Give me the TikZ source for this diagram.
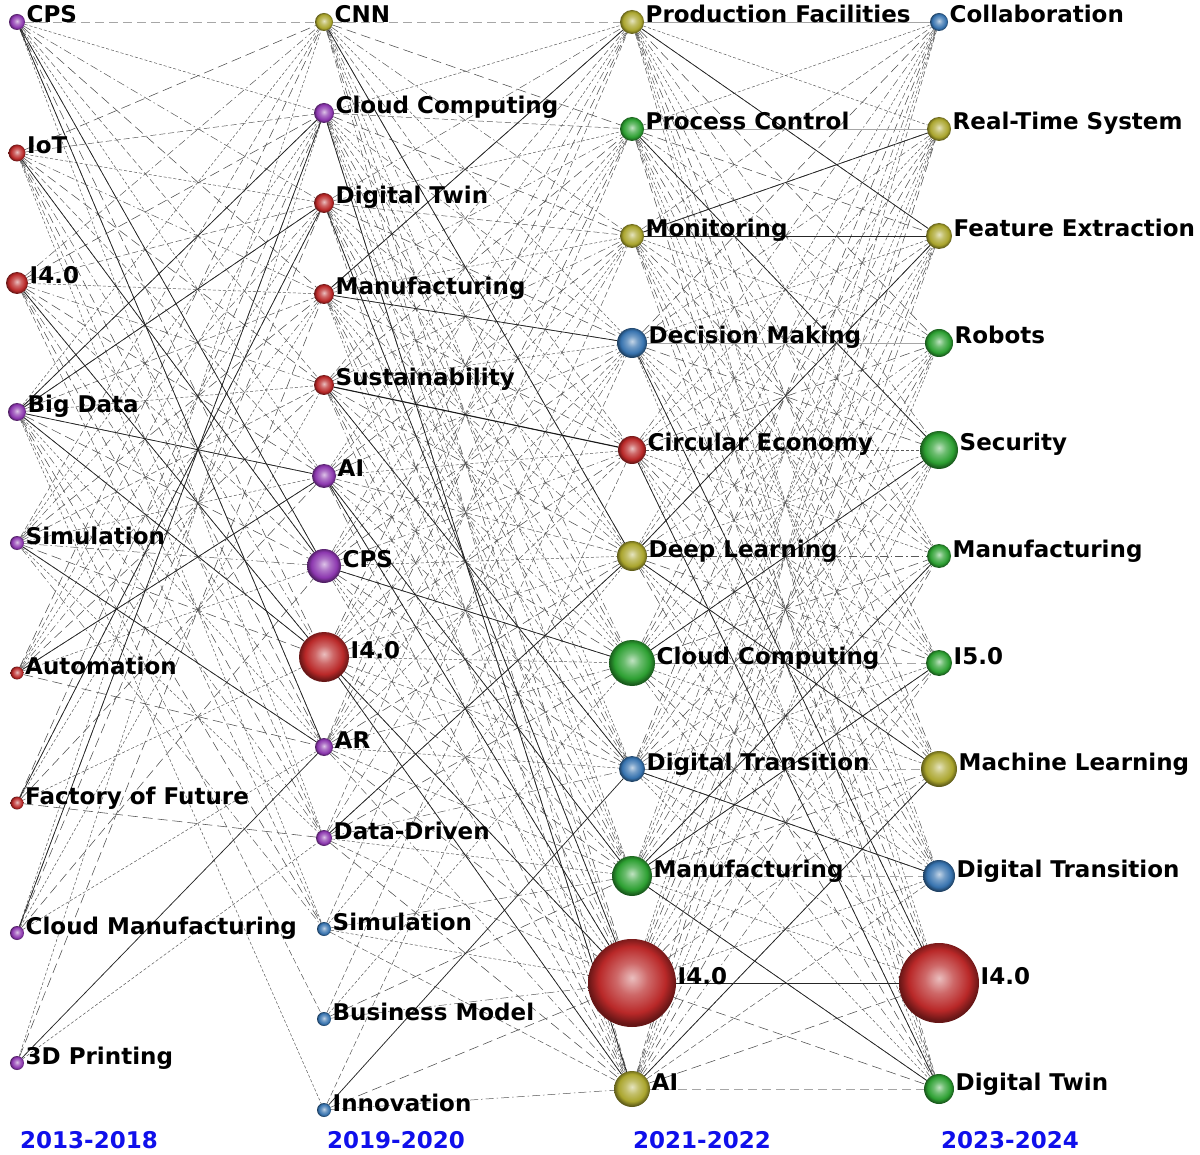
\documentclass[tikz,border=0pt]{standalone}
\usepackage{fontspec}
\setmainfont{DejaVu Sans}
\usetikzlibrary{backgrounds}
\definecolor{kred}{RGB}{185,40,40}
\definecolor{kpurple}{RGB}{140,55,175}
\definecolor{kolive}{RGB}{170,165,45}
\definecolor{kgreen}{RGB}{45,160,50}
\definecolor{kblue}{RGB}{55,115,175}
\definecolor{yrblue}{RGB}{15,15,235}
\colorlet{kwc}{kred}
\pgfdeclareradialshading[kwc]{kwsh}{\pgfpoint{0bp}{3bp}}{%
  color(0bp)=(kwc!30!white); color(9bp)=(kwc!70!white);
  color(19bp)=(kwc); color(25bp)=(kwc!55!black); color(50bp)=(kwc!55!black)}
\tikzset{
  kwball/.style={circle, inner sep=0pt, outer sep=0pt,
    /utils/exec={\colorlet{kwc}{#1}}, shading=kwsh},
  lbl/.style={anchor=base west, inner sep=0pt, xshift=1.5pt, yshift=-1pt,
    font=\bfseries\fontsize{23}{27}\selectfont},
  yr/.style={anchor=base west, inner sep=0pt, text=yrblue,
    font=\bfseries\fontsize{23}{27}\selectfont},
  mesha/.style={draw=black!65, line width=0.5pt, dash pattern=on 6pt off 3pt},
  meshb/.style={draw=black!65, line width=0.5pt, dash pattern=on 3pt off 2pt},
  meshc/.style={draw=black!65, line width=0.5pt, dash pattern=on 8pt off 3pt on 1.5pt off 3pt},
  meshd/.style={draw=black!70, line width=0.55pt, dash pattern=on 10pt off 5pt},
  strong/.style={draw=black!85, line width=0.75pt},
  heavy/.style={draw=black!90, line width=1.1pt},
  faint/.style={draw=black!35, line width=0.9pt},
  faintdash/.style={draw=black!35, line width=0.9pt, dash pattern=on 9pt off 5pt},
}
\newcommand\kwnode[6]{%
  \node[kwball=#5, minimum size=#4pt] (#1) at (#2,#3) {};
  \node[lbl] (#1t) at (#1.east) {#6};}
\newcommand\meshline[3]{%
  \ifcase#1\relax \draw[mesha] (#2) -- (#3);%
  \or \draw[meshb] (#2) -- (#3);%
  \or \draw[meshc] (#2) -- (#3);%
  \or \draw[meshd] (#2) -- (#3);\fi}
\begin{document}
\begin{tikzpicture}[x=1pt,y=-1pt]
\useasboundingbox (0,0) rectangle (1200,1155);
% column 1
\kwnode{A1}{17}{22}{16}{kpurple}{CPS}
\kwnode{A2}{17}{153}{17}{kred}{IoT}
\kwnode{A3}{17}{283}{22}{kred}{I4.0}
\kwnode{A4}{17}{412}{18}{kpurple}{Big Data}
\kwnode{A5}{17}{543}{14}{kpurple}{Simulation}
\kwnode{A6}{17}{673}{13}{kred}{Automation}
\kwnode{A7}{17}{803}{13}{kred}{Factory of Future}
\kwnode{A8}{17}{933}{14}{kpurple}{Cloud Manufacturing}
\kwnode{A9}{17}{1063}{14}{kpurple}{3D Printing}
% column 2
\kwnode{B1}{324}{22}{18}{kolive}{CNN}
\kwnode{B2}{324}{113}{20}{kpurple}{Cloud Computing}
\kwnode{B3}{324}{203}{20}{kred}{Digital Twin}
\kwnode{B4}{324}{294}{20}{kred}{Manufacturing}
\kwnode{B5}{324}{385}{20}{kred}{Sustainability}
\kwnode{B6}{324}{476}{24}{kpurple}{AI}
\kwnode{B7}{324}{566}{34}{kpurple}{CPS}
\kwnode{B8}{324}{657}{50}{kred}{I4.0}
\kwnode{B9}{324}{747}{18}{kpurple}{AR}
\kwnode{B10}{324}{838}{16}{kpurple}{Data-Driven}
\kwnode{B11}{324}{929}{14}{kblue}{Simulation}
\kwnode{B12}{324}{1019}{14}{kblue}{Business Model}
\kwnode{B13}{324}{1110}{14}{kblue}{Innovation}
% column 3
\kwnode{C1}{632}{22}{24}{kolive}{Production Facilities}
\kwnode{C2}{632}{129}{24}{kgreen}{Process Control}
\kwnode{C3}{632}{236}{24}{kolive}{Monitoring}
\kwnode{C4}{632}{343}{30}{kblue}{Decision Making}
\kwnode{C5}{632}{450}{28}{kred}{Circular Economy}
\kwnode{C6}{632}{556}{30}{kolive}{Deep Learning}
\kwnode{C7}{632}{663}{46}{kgreen}{Cloud Computing}
\kwnode{C8}{632}{769}{26}{kblue}{Digital Transition}
\kwnode{C9}{632}{876}{40}{kgreen}{Manufacturing}
\kwnode{C10}{632}{983}{88}{kred}{I4.0}
\kwnode{C11}{632}{1089}{36}{kolive}{AI}
% column 4
\kwnode{D1}{939}{22}{18}{kblue}{Collaboration}
\kwnode{D2}{939}{129}{24}{kolive}{Real-Time System}
\kwnode{D3}{939}{236}{26}{kolive}{Feature Extraction}
\kwnode{D4}{939}{343}{28}{kgreen}{Robots}
\kwnode{D5}{939}{450}{38}{kgreen}{Security}
\kwnode{D6}{939}{556}{24}{kgreen}{Manufacturing}
\kwnode{D7}{939}{663}{26}{kgreen}{I5.0}
\kwnode{D8}{939}{769}{36}{kolive}{Machine Learning}
\kwnode{D9}{939}{876}{32}{kblue}{Digital Transition}
\kwnode{D10}{939}{983}{80}{kred}{I4.0}
\kwnode{D11}{939}{1089}{30}{kgreen}{Digital Twin}
% year labels
\node[yr] (y1) at (20,1148) {2013-2018};
\node[yr] (y2) at (327,1148) {2019-2020};
\node[yr] (y3) at (633,1148) {2021-2022};
\node[yr] (y4) at (941,1148) {2023-2024};

\begin{pgfonlayer}{background}
% mesh column 1 -> column 2
\foreach \i/\js in {1/{2,...,10},2/{1,...,11},3/{1,...,11},4/{1,...,13},5/{1,...,11},
  6/{1,2,3,4,5,6,7,9},7/{2,3,4,6,8,10},8/{1,2,3,5,7,9},9/{2,4,10}}{%
  \foreach \j in \js {%
    \pgfmathtruncatemacro\k{mod(\i*3+\j*5,4)}%
    \meshline{\k}{A\i}{B\j}}}
% mesh column 2 -> column 3
\foreach \i/\js in {1/{2,...,11},2/{1,...,11},3/{1,...,11},4/{1,...,11},5/{1,...,11},
  6/{1,...,11},7/{1,...,11},8/{1,...,11},9/{1,...,11},10/{2,4,6,7,8,9,10,11},
  11/{3,6,9,10,11},12/{4,7,9,10},13/{5,10,11}}{%
  \foreach \j in \js {%
    \pgfmathtruncatemacro\k{mod(\i*5+\j*3,4)}%
    \meshline{\k}{B\i}{C\j}}}
% mesh column 3 -> column 4
\foreach \i in {1,...,11}{%
  \foreach \j in {1,...,11}{%
    \ifnum\i=\j\else
    \pgfmathtruncatemacro\k{mod(\i*3+\j*7,4)}%
    \meshline{\k}{C\i}{D\j}\fi}}
\meshline{1}{C5}{D5}
\meshline{2}{C6}{D6}
% horizontal grey links
\draw[faintdash] (A1) -- (B1);
\draw[faintdash] (B1) -- (C1);
\draw[faint] (C1) -- (D1);
\draw[faint] (C2) -- (D2);
\draw[faint] (C4) -- (D4);
\draw[faintdash] (C7) -- (D7);
\draw[faintdash] (C8) -- (D8);
\draw[faintdash] (C9) -- (D9);
\draw[faintdash] (C11) -- (D11);
% strong links column 1 -> 2
\foreach \a/\b in {A1/B7,A1/B9,A2/B7,A3/B8,A4/B2,A4/B3,A4/B6,A4/B8,A5/B9,
  A6/B6,A7/B3,A8/B2,A9/B9}{\draw[strong] (\a) -- (\b);}
% strong links column 2 -> 3
\foreach \a/\b in {B1/C6,B4/C1,B4/C4,B5/C8,B7/C7,B13/C8,B10/C6,B8/C10,B8/C11,
  B6/C9,B3/C10,B6/C10,B2/C11}{\draw[strong] (\a) -- (\b);}
\draw[heavy] (B5) -- (C5);
% strong links column 3 -> 4
\foreach \a/\b in {C1/D3,C3/D2,C3/D3,C2/D5,C4/D10,C7/D5,C6/D3,C6/D8,C8/D9,
  C9/D11,C9/D6,C9/D7,C10/D10,C11/D8,C5/D11}{\draw[strong] (\a) -- (\b);}
\end{pgfonlayer}
\end{tikzpicture}
\end{document}
